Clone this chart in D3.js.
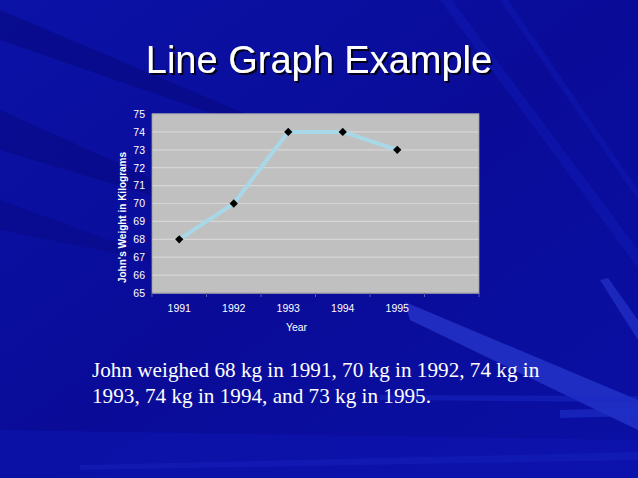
<!DOCTYPE html>
<html><head><meta charset="utf-8">
<script src="https://cdn.jsdelivr.net/npm/d3@7"></script>
<style>html,body{margin:0;padding:0;background:#0a0c9c;}svg{display:block;}</style>
</head><body>
<svg id="chart" width="638" height="478"></svg>
<script>
const years = ["1991","1992","1993","1994","1995",""];
const weights = [68,70,74,74,73];
const yTicks = [65,66,67,68,69,70,71,72,73,74,75];
const titleText = "Line Graph Example";
const xTitle = "Year";
const yTitle = "John's Weight in Kilograms";
const captionLines = ["John weighed 68 kg in 1991, 70 kg in 1992, 74 kg in","1993, 74 kg in 1994, and 73 kg in 1995."];

const svg = d3.select("#chart");
const W = 638, H = 478;

// background
const defs = svg.append("defs");
const bg = defs.append("linearGradient").attr("id","bg").attr("x1","0").attr("y1","0").attr("x2","1").attr("y2","1");
bg.append("stop").attr("offset","0").attr("stop-color","#0b12a6");
bg.append("stop").attr("offset","0.5").attr("stop-color","#0a0c98");
bg.append("stop").attr("offset","1").attr("stop-color","#0a10a4");
const sh = defs.append("filter").attr("id","shadow").attr("x","-10%").attr("y","-20%").attr("width","120%").attr("height","150%");
sh.append("feDropShadow").attr("dx",2).attr("dy",2).attr("stdDeviation",0.6)
  .attr("flood-color","#000").attr("flood-opacity",0.85);
svg.append("rect").attr("width",W).attr("height",H).attr("fill","url(#bg)");

// decorative rays (background only)
const rays = [
  {pts:[[0,10],[0,40],[260,130],[260,120]], c:"#07087e", o:0.6},
  {pts:[[0,110],[0,150],[200,210],[200,200]], c:"#07087e", o:0.5},
  {pts:[[0,200],[0,230],[150,260],[150,255]], c:"#07087e", o:0.4},
  {pts:[[405,302],[410,320],[638,430],[638,400]], c:"#2a3ad0", o:0.7},
  {pts:[[560,410],[560,418],[638,416],[638,408]], c:"#2030c8", o:0.6},
  {pts:[[0,430],[0,478],[638,478],[638,440]], c:"#0d16b4", o:0.5},
  {pts:[[380,395],[380,400],[638,402],[638,396]], c:"#1a28c4", o:0.5},
  {pts:[[600,280],[608,278],[638,320],[638,340]], c:"#2838d0", o:0.6},
  {pts:[[440,0],[452,0],[638,250],[638,268]], c:"#1420c0", o:0.35},
  {pts:[[500,0],[508,0],[638,190],[638,200]], c:"#1420c0", o:0.35},
  {pts:[[80,465],[80,470],[638,460],[638,452]], c:"#1a26c0", o:0.4}
];
svg.append("g").selectAll("path").data(rays).join("path")
  .attr("d", d => "M" + d.pts.map(p => p.join(",")).join("L") + "Z")
  .attr("fill", d => d.c).attr("opacity", d => d.o);

// title
svg.append("text").attr("x",319).attr("y",73).attr("text-anchor","middle")
  .attr("font-family","Liberation Sans, Arial, sans-serif").attr("font-size",38)
  .attr("fill","#ffffff").attr("filter","url(#shadow)").text(titleText);

// chart
const m = {l:152, r:479, t:114, b:293};
const x = d3.scaleBand().domain(years).range([m.l, m.r]).padding(0);
const y = d3.scaleLinear().domain([65,75]).range([m.b, m.t]);

svg.append("rect").attr("x",m.l).attr("y",m.t).attr("width",m.r-m.l).attr("height",m.b-m.t)
  .attr("fill","#c0c0c0");

// gridlines
svg.append("g").selectAll("line").data(yTicks.slice(1)).join("line")
  .attr("x1",m.l).attr("x2",m.r).attr("y1",d=>y(d)).attr("y2",d=>y(d))
  .attr("stroke","#d6d6d6").attr("stroke-width",1.2);

svg.append("rect").attr("x",m.l).attr("y",m.t).attr("width",m.r-m.l).attr("height",m.b-m.t)
  .attr("fill","none").attr("stroke","#9a9a9a").attr("stroke-width",0.8);

// y axis
const yAxis = svg.append("g").attr("transform",`translate(${m.l},0)`)
  .call(d3.axisLeft(y).tickValues(yTicks).tickSize(0).tickPadding(7).tickFormat(d3.format("d")));
yAxis.select(".domain").remove();
yAxis.selectAll("text").attr("fill","#ffffff").attr("font-size",10.5)
  .attr("font-family","Liberation Sans, Arial, sans-serif");

// x axis
const xAxis = svg.append("g").attr("transform",`translate(0,${m.b})`)
  .call(d3.axisBottom(x).tickSize(0).tickPadding(12));
xAxis.select(".domain").attr("stroke","#8888aa");
xAxis.selectAll("text").attr("fill","#ffffff").attr("font-size",10.5)
  .attr("font-family","Liberation Sans, Arial, sans-serif");
// band boundary ticks
xAxis.append("g").selectAll("line").data(years.map(d=>x(d)).concat([m.r])).join("line")
  .attr("x1",d=>d).attr("x2",d=>d).attr("y1",0).attr("y2",4)
  .attr("stroke","#5a5aa8").attr("stroke-width",1);

svg.append("text").attr("x",(m.l+m.r)/2 - 19).attr("y",331).attr("text-anchor","middle")
  .attr("font-family","Liberation Sans, Arial, sans-serif").attr("font-size",10.5)
  .attr("fill","#ffffff").text(xTitle);

svg.append("text").attr("transform",`translate(126,${(m.t+m.b)/2 + 14}) rotate(-90)`)
  .attr("text-anchor","middle").attr("font-family","Liberation Sans, Arial, sans-serif")
  .attr("font-size",10).attr("font-weight","bold").attr("fill","#ffffff").text(yTitle);

// line
const pts = weights.map((w,i)=>({yr:years[i], w}));
const line = d3.line().x(d=>x(d.yr)+x.bandwidth()/2).y(d=>y(d.w));
svg.append("path").datum(pts).attr("d",line).attr("fill","none")
  .attr("stroke","#a8d8e8").attr("stroke-width",4).attr("stroke-linejoin","round");

svg.append("g").selectAll("path").data(pts).join("path")
  .attr("transform",d=>`translate(${x(d.yr)+x.bandwidth()/2},${y(d.w)})`)
  .attr("d", d3.symbol().type(d3.symbolDiamond2).size(44))
  .attr("fill","#000");

// caption
svg.append("g").selectAll("text").data(captionLines).join("text")
  .attr("x",92).attr("y",(d,i)=>377+i*26)
  .attr("font-family","Liberation Serif, Times New Roman, serif").attr("font-size",21.2)
  .attr("fill","#ffffff").text(d=>d);
</script>
</body></html>
